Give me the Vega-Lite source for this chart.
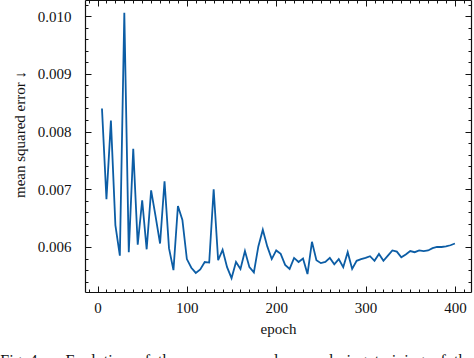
{
  "$schema": "https://vega.github.io/schema/vega-lite/v6.json",
  "width": 386,
  "height": 292,
  "autosize": {"type": "none"},
  "padding": {"left": 85, "top": 0, "right": 3, "bottom": 66},
  "background": "white",
  "config": {
    "view": {"stroke": null},
    "axis": {
      "labelFont": "Liberation Serif",
      "titleFont": "Liberation Serif",
      "labelFontSize": 15,
      "titleFontSize": 15,
      "labelColor": "#111",
      "titleColor": "#111",
      "titleFontWeight": "normal",
      "domainColor": "#111",
      "tickColor": "#111",
      "domainWidth": 1.2,
      "tickWidth": 1,
      "grid": false
    }
  },
  "title": {
    "text": "Fig. 4.\u00a0\u00a0\u00a0\u00a0\u00a0\u00a0Evolution\u00a0 of\u00a0 the\u00a0 mean\u00a0 squared\u00a0 error\u00a0 during\u00a0 training\u00a0 of\u00a0 the",
    "orient": "bottom",
    "anchor": "start",
    "frame": "bounds",
    "font": "Liberation Serif",
    "fontSize": 16,
    "fontWeight": "normal",
    "color": "#111",
    "dx": -12,
    "offset": 17
  },
  "data": {
    "values": [
      {"epoch": 5, "mse": 0.00840},
      {"epoch": 10, "mse": 0.00683},
      {"epoch": 15, "mse": 0.00819},
      {"epoch": 20, "mse": 0.00638},
      {"epoch": 25, "mse": 0.00585},
      {"epoch": 30, "mse": 0.01006},
      {"epoch": 35, "mse": 0.00591},
      {"epoch": 40, "mse": 0.00770},
      {"epoch": 45, "mse": 0.00604},
      {"epoch": 50, "mse": 0.00681},
      {"epoch": 55, "mse": 0.00596},
      {"epoch": 60, "mse": 0.00698},
      {"epoch": 65, "mse": 0.00653},
      {"epoch": 70, "mse": 0.00606},
      {"epoch": 75, "mse": 0.00714},
      {"epoch": 80, "mse": 0.00598},
      {"epoch": 85, "mse": 0.00560},
      {"epoch": 90, "mse": 0.00671},
      {"epoch": 95, "mse": 0.00647},
      {"epoch": 100, "mse": 0.00579},
      {"epoch": 105, "mse": 0.00564},
      {"epoch": 110, "mse": 0.00555},
      {"epoch": 115, "mse": 0.00561},
      {"epoch": 120, "mse": 0.00574},
      {"epoch": 125, "mse": 0.00573},
      {"epoch": 130, "mse": 0.00700},
      {"epoch": 135, "mse": 0.00577},
      {"epoch": 140, "mse": 0.00595},
      {"epoch": 145, "mse": 0.00565},
      {"epoch": 150, "mse": 0.00546},
      {"epoch": 155, "mse": 0.00574},
      {"epoch": 160, "mse": 0.00562},
      {"epoch": 165, "mse": 0.00593},
      {"epoch": 170, "mse": 0.00565},
      {"epoch": 175, "mse": 0.00556},
      {"epoch": 180, "mse": 0.00601},
      {"epoch": 185, "mse": 0.00630},
      {"epoch": 190, "mse": 0.00601},
      {"epoch": 195, "mse": 0.00579},
      {"epoch": 200, "mse": 0.00594},
      {"epoch": 205, "mse": 0.00588},
      {"epoch": 210, "mse": 0.00569},
      {"epoch": 215, "mse": 0.00562},
      {"epoch": 220, "mse": 0.00581},
      {"epoch": 225, "mse": 0.00574},
      {"epoch": 230, "mse": 0.00580},
      {"epoch": 235, "mse": 0.00553},
      {"epoch": 240, "mse": 0.00609},
      {"epoch": 245, "mse": 0.00577},
      {"epoch": 250, "mse": 0.00572},
      {"epoch": 255, "mse": 0.00574},
      {"epoch": 260, "mse": 0.00581},
      {"epoch": 265, "mse": 0.00570},
      {"epoch": 270, "mse": 0.00579},
      {"epoch": 275, "mse": 0.00565},
      {"epoch": 280, "mse": 0.00591},
      {"epoch": 285, "mse": 0.00562},
      {"epoch": 290, "mse": 0.00576},
      {"epoch": 295, "mse": 0.00579},
      {"epoch": 300, "mse": 0.00581},
      {"epoch": 305, "mse": 0.00584},
      {"epoch": 310, "mse": 0.00576},
      {"epoch": 315, "mse": 0.00588},
      {"epoch": 320, "mse": 0.00576},
      {"epoch": 325, "mse": 0.00585},
      {"epoch": 330, "mse": 0.00594},
      {"epoch": 335, "mse": 0.00592},
      {"epoch": 340, "mse": 0.00582},
      {"epoch": 345, "mse": 0.00587},
      {"epoch": 350, "mse": 0.00593},
      {"epoch": 355, "mse": 0.00591},
      {"epoch": 360, "mse": 0.00594},
      {"epoch": 365, "mse": 0.00593},
      {"epoch": 370, "mse": 0.00594},
      {"epoch": 375, "mse": 0.00598},
      {"epoch": 380, "mse": 0.00600},
      {"epoch": 385, "mse": 0.00600},
      {"epoch": 390, "mse": 0.00601},
      {"epoch": 395, "mse": 0.00603},
      {"epoch": 400, "mse": 0.00606}
    ]
  },
  "layer": [
    {
      "mark": {"type": "line", "opacity": 0},
      "encoding": {
        "x": {"field": "epoch", "type": "quantitative", "scale": {"domain": [-14, 418], "nice": false, "zero": false},
          "axis": {"orient": "bottom", "values": [10, 20, 30, 40, 50, 60, 70, 80, 90, 110, 120, 130, 140, 150, 160, 170, 180, 190, 210, 220, 230, 240, 250, 260, 270, 280, 290, 310, 320, 330, 340, 350, 360, 370, 380, 390, 410, -10], "tickSize": -3, "labels": false, "title": null, "domain": false}},
        "y": {"field": "mse", "type": "quantitative", "scale": {"domain": [0.00522, 0.01028], "nice": false, "zero": false},
          "axis": {"orient": "left", "values": [0.0054, 0.0056, 0.0058, 0.0062, 0.0064, 0.0066, 0.0068, 0.0072, 0.0074, 0.0076, 0.0078, 0.0082, 0.0084, 0.0086, 0.0088, 0.0092, 0.0094, 0.0096, 0.0098, 0.0102], "tickSize": -3, "labels": false, "title": null, "domain": false}}
      }
    },
    {
      "mark": {"type": "line", "opacity": 0},
      "encoding": {
        "x": {"field": "epoch", "type": "quantitative",
          "axis": {"orient": "top", "values": [10, 20, 30, 40, 50, 60, 70, 80, 90, 110, 120, 130, 140, 150, 160, 170, 180, 190, 210, 220, 230, 240, 250, 260, 270, 280, 290, 310, 320, 330, 340, 350, 360, 370, 380, 390, 410, -10], "tickSize": -3, "labels": false, "title": null, "domain": false}},
        "y": {"field": "mse", "type": "quantitative",
          "axis": {"orient": "right", "values": [0.0054, 0.0056, 0.0058, 0.0062, 0.0064, 0.0066, 0.0068, 0.0072, 0.0074, 0.0076, 0.0078, 0.0082, 0.0084, 0.0086, 0.0088, 0.0092, 0.0094, 0.0096, 0.0098, 0.0102], "tickSize": -3, "labels": false, "title": null, "domain": false}}
      }
    },
    {
      "mark": {"type": "line", "opacity": 0},
      "encoding": {
        "x": {"field": "epoch", "type": "quantitative",
          "axis": {"orient": "top", "values": [0, 100, 200, 300, 400], "tickSize": -6, "labels": false, "title": null}},
        "y": {"field": "mse", "type": "quantitative",
          "axis": {"orient": "right", "values": [0.006, 0.007, 0.008, 0.009, 0.010], "tickSize": -6, "labels": false, "title": null}}
      }
    },
    {
      "mark": {"type": "line", "color": "#0C5DA5", "strokeWidth": 1.8},
      "encoding": {
        "x": {"field": "epoch", "type": "quantitative",
          "axis": {"orient": "bottom", "values": [0, 100, 200, 300, 400], "tickSize": -6, "labelPadding": 14, "title": "epoch", "titlePadding": 6}},
        "y": {"field": "mse", "type": "quantitative",
          "axis": {"orient": "left", "values": [0.006, 0.007, 0.008, 0.009, 0.010], "format": ".3f", "tickSize": -6, "labelPadding": 20, "title": "mean squared error ↓", "titlePadding": 10, "titleY": 134}}
      }
    }
  ],
  "resolve": {"axis": {"x": "independent", "y": "independent"}}
}
